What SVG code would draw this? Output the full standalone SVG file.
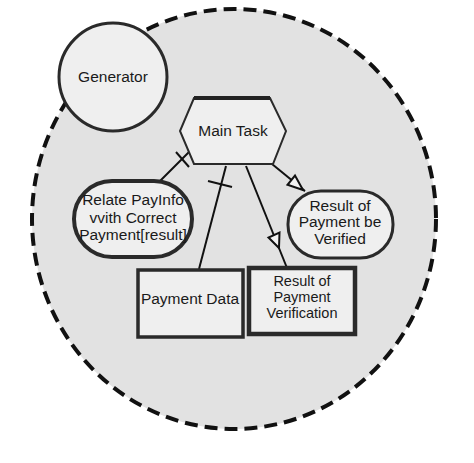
<svg xmlns="http://www.w3.org/2000/svg" width="474" height="463" viewBox="0 0 474 463">
<style>
text{font-family:"Liberation Sans",Arial,sans-serif;font-size:15.5px;fill:#1a1a1a;text-anchor:middle}
.small{font-size:14.5px}
.node{fill:#efefef;stroke:#2a2a2a}
.conn{stroke:#111;stroke-width:2;fill:none}
.arrow{fill:#f2f2f2;stroke:#111;stroke-width:2;stroke-linejoin:miter}
</style>
<rect width="474" height="463" fill="#ffffff"/>
<g id="boundary">
<ellipse cx="234" cy="219" rx="202" ry="210" fill="#e2e2e2" stroke="#111" stroke-width="4" stroke-dasharray="13,7"/>
</g>
<g id="connectors">
<line class="conn" x1="160" y1="181" x2="191" y2="150"/>
<line class="conn" x1="176" y1="152" x2="189" y2="167"/>
<line class="conn" x1="226" y1="166" x2="199" y2="269"/>
<line class="conn" x1="208" y1="181" x2="232" y2="187"/>
<line class="conn" x1="246" y1="166" x2="287" y2="268"/>
<polygon class="arrow" points="279,248 268.5,237.5 279.5,232.5"/>
<line class="conn" x1="272" y1="164" x2="305" y2="191"/>
<polygon class="arrow" points="303,190 287.5,184.8 295,175.5"/>
</g>
<g id="generator">
<circle class="node" cx="113" cy="77" r="54" stroke-width="3"/>
<text x="113" y="82">Generator</text>
</g>
<g id="main-task">
<polygon class="node" points="194,98 270,98 286,131 273,164 194,164 180,131" stroke-width="2"/>
<line x1="194" y1="98" x2="270" y2="98" stroke="#222" stroke-width="4"/>
<text x="233" y="136">Main Task</text>
</g>
<g id="relate-payinfo">
<rect class="node" x="74" y="181" width="118" height="76" rx="38" ry="38" stroke-width="4"/>
<text x="133" y="205">Relate PayInfo</text>
<text x="133" y="223">vvith Correct</text>
<text x="133" y="240">Payment[result]</text>
</g>
<g id="result-verified">
<rect class="node" x="288" y="191" width="105" height="67" rx="33" ry="33" stroke-width="3"/>
<text x="340" y="211">Result of</text>
<text x="340" y="227">Payment be</text>
<text x="340" y="244">Verified</text>
</g>
<g id="payment-data">
<rect class="node" x="138" y="270" width="105" height="67" stroke-width="3.5"/>
<text x="190" y="304">Payment Data</text>
</g>
<g id="result-verification">
<rect class="node" x="249" y="268" width="106" height="66" stroke-width="4.5" stroke="#222"/>
<text class="small" x="302" y="286">Result of</text>
<text class="small" x="302" y="302">Payment</text>
<text class="small" x="302" y="318">Verification</text>
</g>
</svg>
